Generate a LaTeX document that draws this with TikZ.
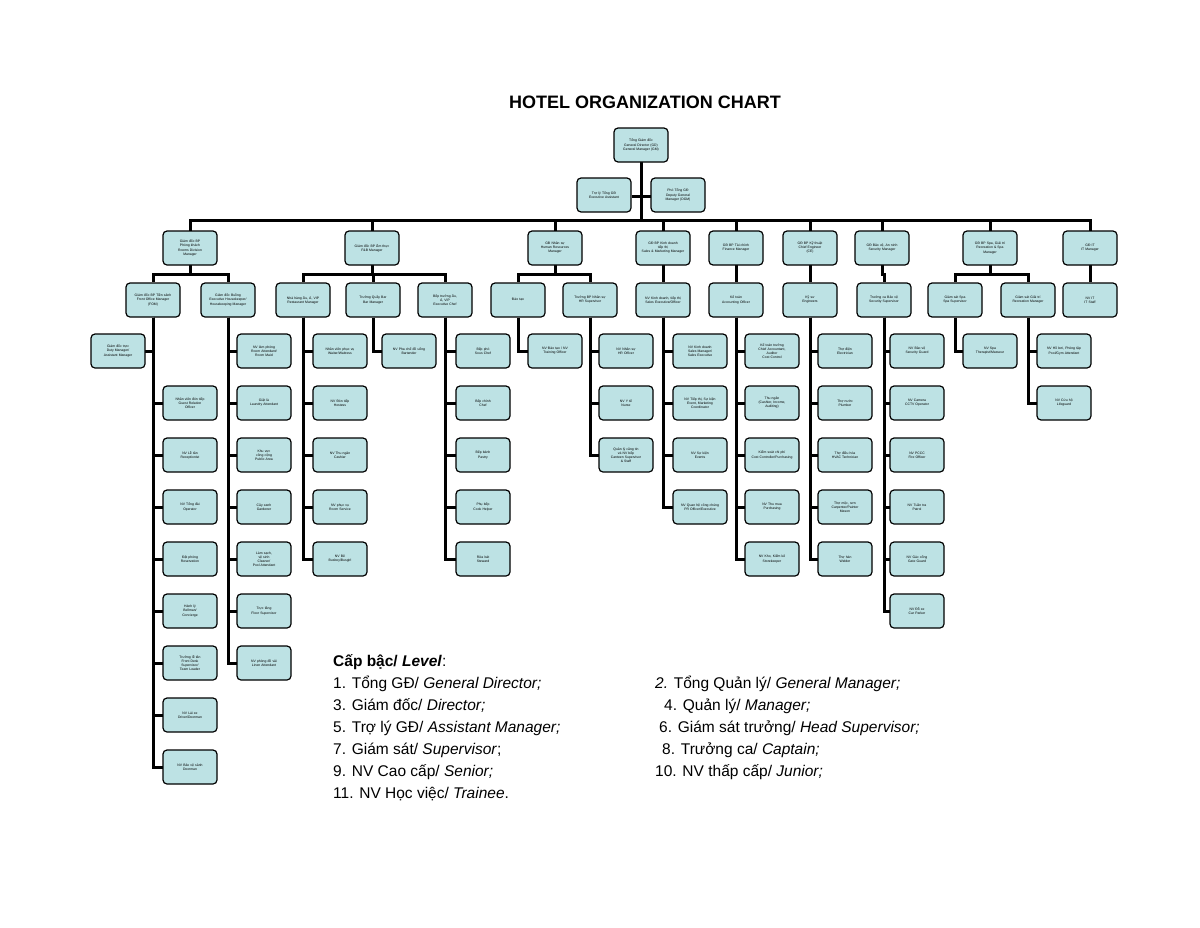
\documentclass[tikz,border=0pt]{standalone}
\usepackage{fontspec}
\setmainfont{Liberation Sans}
\definecolor{boxc}{HTML}{BDE2E4}
\begin{document}
\begin{tikzpicture}[x=1pt,y=-1pt,
  box/.style={draw,line width=1.2pt,rounded corners=4pt,fill=boxc,minimum width=54pt,minimum height=34pt,text width=50pt,align=center,inner sep=1pt,font=\fontsize{3.4}{4.1}\selectfont},
  conn/.style={line width=3pt},
  leg/.style={anchor=west,inner sep=0pt,font=\fontsize{15.5}{18}\selectfont}]
\useasboundingbox (0,0) rectangle (1200,927);
\fill[white] (0,0) rectangle (1200,927);
\node[font=\bfseries\fontsize{18}{20}\selectfont] (title) at (645,102) {HOTEL ORGANIZATION CHART};
% connectors top
\coordinate (j) at (641,196);
\draw[conn] (641,161) -- (641,220);
\draw[conn] (632,196) -- (651,196);
\foreach \x in {190,372,555,663,736,810,882,990,1090}
  \draw[conn] (641,220) -| (\x,231);
% level2 -> level3
\foreach \p/\c in {190/153,190/228,372/303,372/373,372/445,555/518,555/590,663/663,736/736,810/810,882/884,990/955,990/1028,1090/1090}
  \draw[conn] (\p,265) -- (\p,274) -| (\c,282);
% top nodes
\node[box] (gd) at (641,145) {Tổng Giám đốc\\General Director (GD)\\General Manager (GM)};
\node[box] (asst) at (604,195) {Trợ lý Tổng GĐ\\Executive Assistant};
\node[box] (dgm) at (678,195) {Phó Tổng GĐ\\Deputy General\\Manager (DGM)};
% level 2
\node[box] (rd) at (190,248) {Giám đốc BP\\Phòng khách\\Rooms Division\\Manager};
\node[box] (fb) at (372,248) {Giám đốc BP Ẩm thực\\F\&B Manager};
\node[box] (hr) at (555,248) {GĐ Nhân sự\\Human Resources\\Manager};
\node[box] (sm) at (663,248) {GĐ BP Kinh doanh\\tiếp thị\\Sales \& Marketing Manager};
\node[box] (fin) at (736,248) {GĐ BP Tài chính\\Finance Manager};
\node[box] (eng) at (810,248) {GĐ BP Kỹ thuật\\Chief Engineer\\(CE)};
\node[box] (sec) at (882,248) {GĐ Bảo vệ, An ninh\\Security Manager};
\node[box] (spa) at (990,248) {GĐ BP Spa, Giải trí\\Recreation \& Spa\\Manager};
\node[box] (it) at (1090,248) {GĐ IT\\IT Manager};
% level 3
\node[box] (fom) at (153,300) {Giám đốc BP Tiền sảnh\\Front Office Manager\\(FOM)};
\node[box] (hk) at (228,300) {Giám đốc Buồng\\Executive Housekeeper/\\Housekeeping Manager};
\node[box] (rest) at (303,300) {Nhà hàng Âu, Á, VIP\\Restaurant Manager};
\node[box] (bar) at (373,300) {Trưởng Quầy Bar\\Bar Manager};
\node[box] (chef) at (445,300) {Bếp trưởng Âu,\\Á, VIP\\Executive Chef};
\node[box] (trn) at (518,300) {Đào tạo};
\node[box] (hrs) at (590,300) {Trưởng BP Nhân sự\\HR Supervisor};
\node[box] (sales) at (663,300) {NV Kinh doanh, tiếp thị\\Sales Executive/Officer};
\node[box] (acc) at (736,300) {Kế toán\\Accounting Officer};
\node[box] (engs) at (810,300) {Kỹ sư\\Engineers};
\node[box] (secs) at (884,300) {Trưởng ca Bảo vệ\\Security Supervisor};
\node[box] (spas) at (955,300) {Giám sát Spa\\Spa Supervisor};
\node[box] (recs) at (1028,300) {Giám sát Giải trí\\Recreation Manager};
\node[box] (its) at (1090,300) {NV IT\\IT Staff};
% level 4 columns
\newcommand{\col}[5]{% parent, prefix, x, start y, list
  \foreach \t [count=\i] in {#5} {
    \draw[conn] (#1.south) |- ($(#3,{#4+52*(\i-1)})+(-27,0)$);
    \node[box] (#2\i) at (#3,{#4+52*(\i-1)}) {\t};
  }}
\draw[conn] (fom.south) |- (145,351);
\node[box] (duty) at (118,351) {Giám đốc trực\\Duty Manager/\\Assistant Manager};
\foreach \t [count=\i] in {{Nhân viên đón tiếp\\Guest Relation\\Officer},{NV Lễ tân\\Receptionist},{NV Tổng đài\\Operator},{Đặt phòng\\Reservation},{Hành lý\\Bellman/\\Concierge},{Trưởng lễ tân\\Front Desk\\Supervisor/\\Team Leader},{NV Lái xe\\Driver/Doorman},{NV Bảo vệ sảnh\\Doorman}} {
  \draw[conn] (fom.south) |- (163,{403+52*(\i-1)}) coordinate (cfo\i);
  \node[box] (fo\i) at (190,{403+52*(\i-1)}) {\t};}
\foreach \t [count=\i] in {{NV làm phòng\\Room Attendant/\\Room Maid},{Giặt là\\Laundry Attendant},{Khu vực\\công cộng\\Public Area},{Cây xanh\\Gardener},{Làm sạch,\\vệ sinh\\Cleaner/\\Pool Attendant},{Trực tầng\\Floor Supervisor},{NV phòng đồ vải\\Linen Attendant}} {
  \draw[conn] (hk.south) |- (237,{351+52*(\i-1)});
  \node[box] (hkc\i) at (264,{351+52*(\i-1)}) {\t};}
\foreach \t [count=\i] in {{Nhân viên phục vụ\\Waiter/Waitress},{NV Đón tiếp\\Hostess},{NV Thu ngân\\Cashier},{NV phục vụ\\Room Service},{NV Bê\\Busboy/Busgirl}} {
  \draw[conn] (rest.south) |- (313,{351+52*(\i-1)});
  \node[box] (rc\i) at (340,{351+52*(\i-1)}) {\t};}
\draw[conn] (bar.south) |- (382,351);
\node[box] (bc1) at (409,351) {NV Pha chế đồ uống\\Bartender};
\foreach \t [count=\i] in {{Bếp phó\\Sous Chef},{Bếp chính\\Chef},{Bếp bánh\\Pastry},{Phụ bếp\\Cook Helper},{Rửa bát\\Steward}} {
  \draw[conn] (chef.south) |- (456,{351+52*(\i-1)});
  \node[box] (cc\i) at (483,{351+52*(\i-1)}) {\t};}
\draw[conn] (trn.south) |- (528,351);
\node[box] (tc1) at (555,351) {NV Đào tạo / NV\\Training Officer};
\foreach \t [count=\i] in {{NV Nhân sự\\HR Officer},{NV Y tế\\Nurse},{Quản lý căng tin\\và NV bếp\\Canteen Supervisor\\\& Staff}} {
  \draw[conn] (hrs.south) |- (599,{351+52*(\i-1)});
  \node[box] (hc\i) at (626,{351+52*(\i-1)}) {\t};}
\foreach \t [count=\i] in {{NV Kinh doanh\\Sales Manager/\\Sales Executive},{NV Tiếp thị, Sự kiện\\Event, Marketing\\Coordinator},{NV Sự kiện\\Events},{NV Quan hệ công chúng\\PR Officer/Executive}} {
  \draw[conn] (sales.south) |- (673,{351+52*(\i-1)});
  \node[box] (sc\i) at (700,{351+52*(\i-1)}) {\t};}
\foreach \t [count=\i] in {{Kế toán trưởng\\Chief Accountant,\\Auditor\\Cost Control},{Thu ngân\\(Cashier, Income,\\Auditing)},{Kiểm soát chi phí\\Cost Controller/Purchasing},{NV Thu mua\\Purchasing},{NV Kho, Kiểm kê\\Storekeeper}} {
  \draw[conn] (acc.south) |- (745,{351+52*(\i-1)});
  \node[box] (ac\i) at (772,{351+52*(\i-1)}) {\t};}
\foreach \t [count=\i] in {{Thợ điện\\Electrician},{Thợ nước\\Plumber},{Thợ điều hòa\\HVAC Technician},{Thợ mộc, sơn\\Carpenter/Painter\\Mason},{Thợ hàn\\Welder}} {
  \draw[conn] (engs.south) |- (818,{351+52*(\i-1)});
  \node[box] (ec\i) at (845,{351+52*(\i-1)}) {\t};}
\foreach \t [count=\i] in {{NV Bảo vệ\\Security Guard},{NV Camera\\CCTV Operator},{NV PCCC\\Fire Officer},{NV Tuần tra\\Patrol},{NV Gác cổng\\Gate Guard},{NV Đỗ xe\\Car Parker}} {
  \draw[conn] (secs.south) |- (890,{351+52*(\i-1)});
  \node[box] (xc\i) at (917,{351+52*(\i-1)}) {\t};}
\draw[conn] (spas.south) |- (963,351);
\node[box] (pc1) at (990,351) {NV Spa\\Therapist/Masseur};
\foreach \t [count=\i] in {{NV Hồ bơi, Phòng tập\\Pool/Gym Attendant},{NV Cứu hộ\\Lifeguard}} {
  \draw[conn] (recs.south) |- (1037,{351+52*(\i-1)});
  \node[box] (gc\i) at (1064,{351+52*(\i-1)}) {\t};}
% legend
\node[leg] (l0) at (333,662) {\textbf{Cấp bậc/ \textit{Level}}:};
\node[leg] (l1) at (333,684) {1. Tổng GĐ/ \textit{General Director;}};
\node[leg] (l3) at (333,706) {3. Giám đốc/ \textit{Director;}};
\node[leg] (l5) at (333,728) {5. Trợ lý GĐ/ \textit{Assistant Manager;}};
\node[leg] (l7) at (333,750) {7. Giám sát/ \textit{Supervisor};};
\node[leg] (l9) at (333,772) {9. NV Cao cấp/ \textit{Senior;}};
\node[leg] (l11) at (333,794) {11. NV Học việc/ \textit{Trainee}.};
\node[leg] (l2) at (655,684) {\textit{2.} Tổng Quản lý/ \textit{General Manager;}};
\node[leg] (l4) at (664,706) {4. Quản lý/ \textit{Manager;}};
\node[leg] (l6) at (659,728) {6. Giám sát trưởng/ \textit{Head Supervisor;}};
\node[leg] (l8) at (662,750) {8. Trưởng ca/ \textit{Captain;}};
\node[leg] (l10) at (655,772) {10. NV thấp cấp/ \textit{Junior;}};
\end{tikzpicture}
\end{document}
